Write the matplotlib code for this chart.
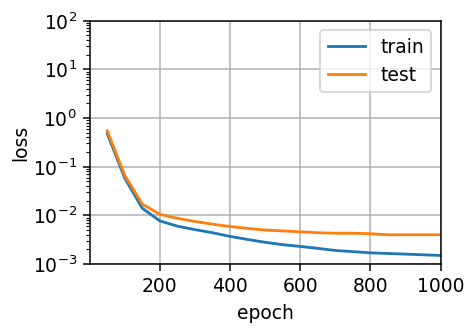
import matplotlib
matplotlib.use('Agg')
import matplotlib.pyplot as plt

# loss recorded every 50 epochs
epochs = [50, 100, 150, 200, 250, 300, 350, 400, 450, 500,
          550, 600, 650, 700, 750, 800, 850, 900, 950, 1000]
train_loss = [0.48, 0.058, 0.014, 0.0077, 0.0060, 0.0051, 0.0044, 0.0037, 0.0032, 0.0028,
              0.0025, 0.0023, 0.0021, 0.0019, 0.0018, 0.0017, 0.00165, 0.0016, 0.00155, 0.0015]
test_loss = [0.55, 0.066, 0.017, 0.0105, 0.0087, 0.0075, 0.0066, 0.0059, 0.0054, 0.0050,
             0.0048, 0.0046, 0.0044, 0.0043, 0.0043, 0.0042, 0.0040, 0.0040, 0.0040, 0.0040]

fig = plt.figure(figsize=(3.51, 2.49), dpi=135)
ax = fig.add_axes([0.19, 0.214, 0.74, 0.724])

ax.plot(epochs, train_loss, label='train')
ax.plot(epochs, test_loss, label='test')

ax.set_yscale('log')
ax.set_xlim(1, 1000)
ax.set_ylim(1e-3, 1e2)
ax.set_xlabel('epoch')
ax.set_ylabel('loss', labelpad=1)
ax.legend()
ax.grid(True)

fig.savefig('out.png', dpi=135)
